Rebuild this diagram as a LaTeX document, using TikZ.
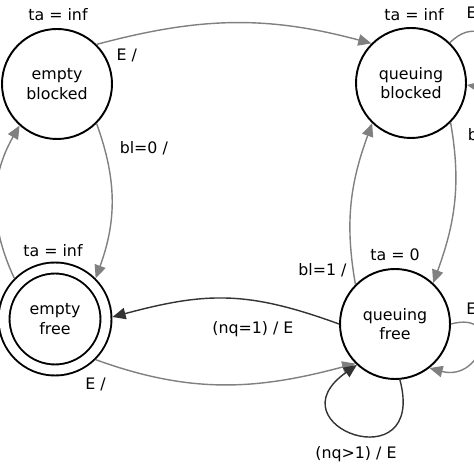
\documentclass[tikz,border=0pt]{standalone}
\usepackage{fontspec}
\setmainfont{DejaVu Sans}
\usetikzlibrary{arrows.meta}

\begin{document}
\begin{tikzpicture}[>={Triangle[length=7.5pt,width=6.5pt]},
      font=\fontsize{9pt}{11pt}\selectfont,
      state/.style={circle,draw,line width=1.1pt,minimum size=2.2cm,inner sep=0pt,align=center},
      final/.style={state,minimum size=2.04cm,double,double distance=0.181cm,outer sep=0.13cm},
      trans/.style={->,draw=black!50,line width=0.8pt},
      dtrans/.style={->,draw=black!80,line width=0.8pt}]
      \useasboundingbox (0,0) rectangle (9.48,9.48);
      \clip (0,0) rectangle (9.48,9.48);

      \node[state] (eb) at (1.14, 7.80) {empty\\blocked};
      \node (taeb) at (1.16, 9.18) {ta = inf};
      \node[state] (qb) at (8.22, 7.82) {queuing\\blocked};
      \node (taqb) at (8.28, 9.18) {ta = inf};
      \node[final] (ef) at (1.10, 3.10) {empty\\free};
      \node (taef) at (1.06, 4.46) {ta = inf};
      \node[state] (qf) at (7.90, 3.00) {queuing\\free};
      \node (taqf) at (7.90, 4.38) {ta = 0};

      \path
      (eb.45) edge[trans,out=15,in=165] node[pos=0.1,below=3pt] {E /} (qb.135)
      (eb.-45) edge[trans,out=-70,in=70] node[pos=0.15,right=5pt] {bl=0 /} (ef.45)
      (ef.135) edge[trans,out=115,in=240] (eb.228)
      (qf.180) edge[dtrans,out=160,in=15,looseness=1.1] node[pos=0.37,below=8pt] {(nq=1) / E} (ef.2)
      (ef.-45) edge[trans,out=-20,in=195] node[pos=0,below=6.5pt] {E /} (qf.-135)
      (qf.135) edge[trans,out=100,in=250] node[pos=0.08,left=0pt] {bl=1 /} (qb.226)
      (qb.-45) edge[trans,out=-80,in=70] node[pos=0.07,right=5pt] {bl=0 /} (qf.47)
      (qb.46) edge[trans,out=45,in=-10,looseness=3.5] node[pos=0.15,anchor=south west,xshift=-5pt,yshift=3pt] {E /} (qb.-2)
      (qf.0) edge[trans,out=15,in=-15,looseness=2.85] node[pos=0.1,anchor=south west,xshift=-2.7pt] {E /} (qf.-52)
      (qf.-85) edge[dtrans,out=-75,in=215,looseness=6] node[below=3.5pt] {(nq>1) / E} (qf.-133)
      ;
\end{tikzpicture}
\end{document}
